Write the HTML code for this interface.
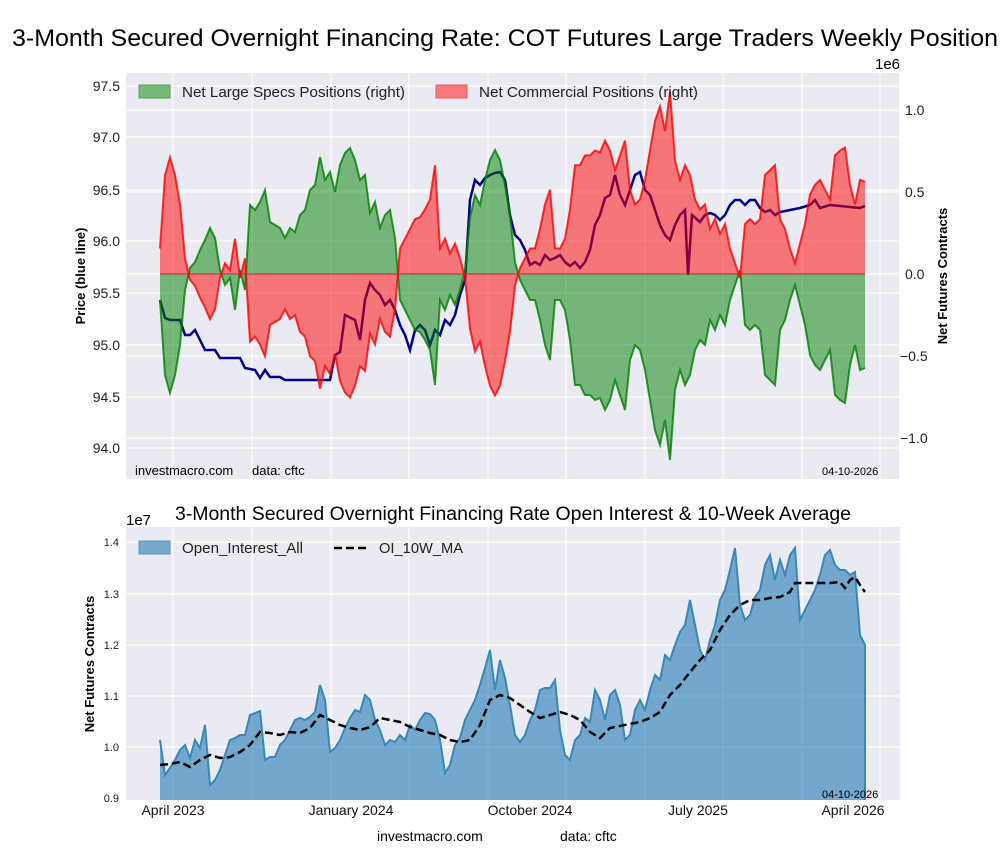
<!DOCTYPE html>
<html><head><meta charset="utf-8"><style>
body{margin:0;background:#fff;font-family:"Liberation Sans",sans-serif;}
</style></head><body>
<svg id="s" width="1000" height="860" xmlns="http://www.w3.org/2000/svg" font-family="Liberation Sans, sans-serif">
<rect x="126" y="73" width="773" height="406" fill="#eaeaf2"/>
<rect x="126" y="527" width="774" height="273" fill="#eaeaf2"/>
<g id="grid" stroke="#fff" stroke-width="1.2"></g>
<g id="data"></g>
<text x="12" y="46" font-size="24" textLength="986" lengthAdjust="spacingAndGlyphs">3-Month Secured Overnight Financing Rate: COT Futures Large Traders Weekly Position</text>
<text x="175" y="520" font-size="19" textLength="676" lengthAdjust="spacingAndGlyphs">3-Month Secured Overnight Financing Rate Open Interest &amp; 10-Week Average</text>
<text x="875" y="69" font-size="15">1e6</text>
<text x="126" y="525" font-size="15">1e7</text>
<g font-size="14" text-anchor="end" fill="#222">
<text x="120" y="91">97.5</text><text x="120" y="142">97.0</text><text x="120" y="195">96.5</text><text x="120" y="246">96.0</text><text x="120" y="298">95.5</text><text x="120" y="350">95.0</text><text x="120" y="402">94.5</text><text x="120" y="453">94.0</text>
</g>
<g font-size="14" fill="#222">
<text x="905" y="115">1.0</text><text x="905" y="197">0.5</text><text x="905" y="279">0.0</text><text x="900" y="361">−0.5</text><text x="900" y="443">−1.0</text>
</g>
<g font-size="11" text-anchor="end" fill="#222">
<text x="119" y="546">1.4</text><text x="119" y="598">1.3</text><text x="119" y="649">1.2</text><text x="119" y="700">1.1</text><text x="119" y="751">1.0</text><text x="119" y="802">0.9</text>
</g>
<g font-size="14" text-anchor="middle" fill="#111">
<text x="173" y="815">April 2023</text><text x="351" y="815">January 2024</text><text x="530" y="815">October 2024</text><text x="698" y="815">July 2025</text><text x="853" y="815">April 2026</text>
</g>
<text x="85" y="276" font-size="13" font-weight="bold" text-anchor="middle" transform="rotate(-90 85 276)">Price (blue line)</text>
<text x="947" y="276" font-size="13" font-weight="bold" text-anchor="middle" transform="rotate(-90 947 276)">Net Futures Contracts</text>
<text x="94" y="664" font-size="13" font-weight="bold" text-anchor="middle" transform="rotate(-90 94 664)">Net Futures Contracts</text>
<text x="135" y="475" font-size="13">investmacro.com</text><text x="252" y="475" font-size="13">data: cftc</text>
<text x="822" y="475" font-size="11">04-10-2026</text>
<text x="822" y="798" font-size="11">04-10-2026</text>
<text x="377" y="841" font-size="14">investmacro.com</text><text x="560" y="841" font-size="14">data: cftc</text>
<rect x="139" y="85" width="31" height="13" fill="#79b879" stroke="#5a9e5a"/>
<text x="182" y="97" font-size="14.5" fill="#222" textLength="223" lengthAdjust="spacingAndGlyphs">Net Large Specs Positions (right)</text>
<rect x="436" y="85" width="31" height="13" fill="#f67a7a" stroke="#f45a5a"/>
<text x="479" y="97" font-size="14.5" fill="#222" textLength="219" lengthAdjust="spacingAndGlyphs">Net Commercial Positions (right)</text>
<rect x="139" y="541" width="31" height="13" fill="#77a9c9" stroke="#5a96bf"/>
<text x="182" y="553" font-size="14.5" fill="#222" textLength="121" lengthAdjust="spacingAndGlyphs">Open_Interest_All</text>
<line x1="334" y1="548" x2="366" y2="548" stroke="#000" stroke-width="2.5" stroke-dasharray="8,4"/>
<text x="379" y="553" font-size="14.5" fill="#222" textLength="84" lengthAdjust="spacingAndGlyphs">OI_10W_MA</text>
</svg>
<script>
var NS="http://www.w3.org/2000/svg";
function el(p,t,a){var e=document.createElementNS(NS,t);for(var k in a)e.setAttribute(k,a[k]);p.appendChild(e);return e;}
var g=document.getElementById("grid"),d=document.getElementById("data");
var xs=[173,252,331,409,488,566,645,723,802,880];
xs.forEach(function(x){el(g,"line",{x1:x,y1:73,x2:x,y2:479});el(g,"line",{x1:x,y1:527,x2:x,y2:800});});
[86,137,190,241,293,345,397,448,110,192,274,356,438].forEach(function(y){el(g,"line",{x1:126,y1:y,x2:899,y2:y});});
[542,594,645,696,747].forEach(function(y){el(g,"line",{x1:126,y1:y,x2:900,y2:y});});
function P(s){return s.trim().split(/;\s*/).map(function(p){return p.split(",").map(Number);});}
function pts(a){return a.map(function(p){return p[0]+","+p[1];}).join(" ");}
var G=P("160,300;165,375;170,393;175,375;180,345;185,290;190,268;195,262;200,250;205,240;210,228;215,238;220,270;225,285;230,278;235,310;240,270;245,290;250,205;255,210;260,202;265,190;270,222;275,225;280,228;285,238;290,228;295,232;300,215;305,210;310,190;315,185;320,157;325,180;330,172;335,192;340,165;345,153;350,148;355,160;360,180;365,175;370,213;375,202;380,228;385,215;390,210;395,238;400,300;405,310;410,320;415,330;420,332;425,340;430,350;435,385;440,300;445,310;450,295;455,305;460,290;465,270;470,218;475,195;480,205;485,180;490,160;495,150;500,160;505,185;510,215;515,262;520,280;525,290;530,300;535,300;540,320;545,345;550,360;555,300;560,300;565,310;570,340;575,385;580,385;585,395;590,395;595,400;600,398;605,410;610,400;615,380;620,395;625,410;630,360;635,345;640,350;645,370;650,400;655,430;660,445;665,420;670,460;675,390;680,370;685,385;690,375;695,350;700,340;705,345;710,320;715,330;720,315;725,325;730,300;735,285;740,270;745,325;750,330;755,325;760,330;765,375;770,380;775,385;780,330;785,320;790,300;795,285;800,305;805,325;810,355;815,365;820,370;825,360;830,350;835,395;840,400;845,403;850,365;855,345;860,370;865,368");
var R=G.map(function(p){return [p[0],274-(p[1]-274)*0.98];});
var B=P("160,300;165,318;170,320;180,320;185,335;190,335;195,330;205,350;215,350;220,358;240,358;245,368;255,370;260,378;265,370;270,377;280,377;285,380;330,380;335,355;340,352;345,315;355,320;360,340;365,300;370,283;375,290;380,295;385,305;390,300;395,310;400,325;405,335;410,350;415,330;420,325;425,330;430,345;435,330;440,335;445,320;450,325;455,315;460,295;465,280;470,200;475,180;480,185;485,178;490,175;495,173;500,172;505,180;510,215;515,235;520,240;525,250;530,265;535,262;540,265;545,255;550,260;555,258;560,255;565,262;570,266;575,262;580,268;585,262;590,250;595,225;600,215;605,198;610,195;615,175;620,195;625,205;630,190;635,175;640,172;645,190;650,195;655,210;660,225;665,235;670,240;675,225;680,215;685,210;688,275;692,215;700,222;705,215;710,213;715,215;720,220;725,215;730,205;735,200;740,200;745,205;750,200;755,200;760,208;765,212;770,210;775,215;780,212;790,210;800,208;810,205;815,200;820,208;830,205;840,206;850,207;860,208;865,206");
el(d,"polyline",{points:pts(B),fill:"none",stroke:"#00008b","stroke-width":2.5});
function area(a,base,fill,stroke){var s=pts(a)+" "+a[a.length-1][0]+","+base+" "+a[0][0]+","+base;
el(d,"polygon",{points:s,fill:fill,"fill-opacity":0.5});el(d,"polyline",{points:pts(a),fill:"none",stroke:stroke,"stroke-width":2,"stroke-opacity":0.8});}
area(G,274,"#008000","#008000");area(R,274,"#ff0000","#ff0000");
el(d,"line",{x1:160,y1:274,x2:865,y2:274,stroke:"#b03030","stroke-width":1});
var O=P("160,740;165,775;170,768;175,760;180,750;185,745;190,758;195,740;200,748;205,725;210,785;215,780;220,770;225,755;230,740;235,738;240,735;245,735;250,715;255,713;260,711;265,760;270,757;275,757;280,745;285,740;290,730;295,720;300,718;305,720;310,717;315,712;320,685;325,700;330,752;335,748;340,740;345,728;350,718;355,710;360,712;365,695;370,700;375,720;380,730;385,745;390,740;395,742;400,735;405,740;410,725;415,730;420,720;425,713;430,714;435,720;440,740;445,773;450,765;455,745;460,738;465,720;470,710;475,700;480,685;485,668;490,650;495,690;500,660;505,678;510,705;515,735;520,742;525,735;530,720;535,710;540,690;545,688;550,688;555,680;560,730;565,755;570,760;575,740;580,735;585,718;590,722;595,690;600,700;605,720;610,695;615,690;620,705;625,740;630,735;635,710;640,700;645,710;650,690;655,675;660,680;665,655;670,660;675,645;680,632;685,625;690,600;695,625;700,650;705,660;710,640;715,625;720,600;725,590;730,570;735,548;740,605;745,620;750,615;755,597;760,590;765,565;770,555;775,580;780,560;785,575;790,555;795,548;800,620;805,610;810,600;815,590;820,575;825,555;830,550;835,565;840,570;845,570;850,575;855,572;860,635;865,645");
var os=pts(O)+" 865,800 160,800";
el(d,"polygon",{points:os,fill:"#1f77b4","fill-opacity":0.58});
el(d,"polyline",{points:pts(O)+" 865,800",fill:"none",stroke:"#3a88b8","stroke-width":2});
var M=P("160,765;170,764;180,762;190,767;200,760;210,755;220,758;230,757;240,752;250,745;260,732;270,733;280,735;290,732;300,733;310,728;320,715;330,720;340,725;350,728;360,730;370,727;380,718;390,720;400,722;410,727;420,730;430,733;440,735;450,740;460,742;470,740;480,725;490,700;500,695;510,698;520,705;530,712;540,718;550,715;560,712;570,715;580,720;590,732;600,738;610,728;620,726;630,724;640,722;650,718;660,712;670,695;680,685;690,672;700,660;710,650;720,630;730,615;740,605;750,600;760,600;770,598;780,597;790,592;795,583;805,583;815,583;830,583;840,582;845,588;850,580;855,577;860,585;865,592");
el(d,"polyline",{points:pts(M),fill:"none",stroke:"#000","stroke-width":2.5,"stroke-dasharray":"8,4"});
</script>
</body></html>
